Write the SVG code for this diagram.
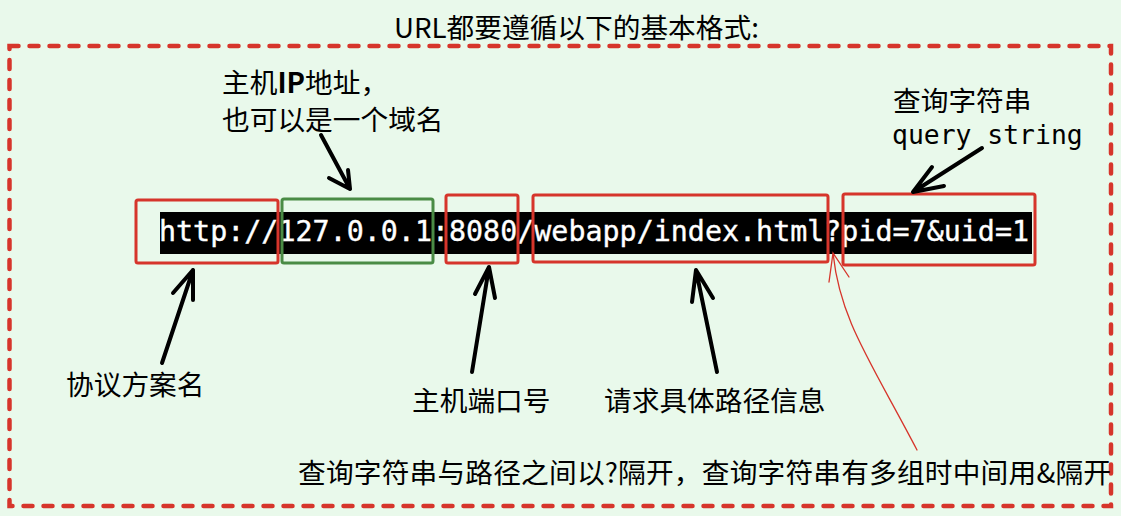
<svg xmlns="http://www.w3.org/2000/svg" width="1121" height="516" viewBox="0 0 1121 516">
<style>
.cjk{font-family:"Noto Sans CJK SC","Noto Sans",sans-serif;font-size:27.7px;fill:#000}
.mono{font-family:"DejaVu Sans Mono","Liberation Mono",monospace}
.rbox{fill:none;stroke:#d6352b;stroke-width:3}
.gbox{fill:none;stroke:#4a8c45;stroke-width:3}
.arr{fill:none;stroke:#000;stroke-width:4;stroke-linecap:round;stroke-linejoin:round}
.thin{fill:none;stroke:#d6352b;stroke-width:1.3;stroke-linecap:round}
.dash{fill:none;stroke:#d6352b;stroke-width:4.5;stroke-linecap:round;stroke-dasharray:9 11}
</style>
<rect x="0" y="0" width="1121" height="516" fill="#e9f9eb"/>
<g id="frame">
<rect class="dash" x="9.5" y="46" width="1101.5" height="460"/>
</g>
<g id="title"><text class="cjk" x="394" y="38">URL都要遵循以下的基本格式:</text></g>
<g id="url-bar">
<rect x="160" y="212" width="872" height="42" fill="#000"/>
<text class="mono" x="159" y="241" font-size="28.3" fill="#fff" stroke="#fff" stroke-width="0.4" textLength="870" lengthAdjust="spacing">http://127.0.0.1:8080/webapp/index.html?pid=7&amp;uid=1</text>
</g>
<g id="box-protocol"><rect class="rbox" x="136" y="200" width="142" height="63" rx="2"/></g>
<g id="box-host"><rect class="gbox" x="282" y="199" width="151" height="64" rx="2"/></g>
<g id="box-port"><rect class="rbox" x="446" y="195" width="72" height="68" rx="2"/></g>
<g id="box-path"><rect class="rbox" x="533" y="195" width="295" height="67" rx="2"/></g>
<g id="box-query"><rect class="rbox" x="843" y="194" width="192" height="71" rx="2"/></g>
<g id="label-host"><text class="cjk" x="222" y="93">主机<tspan font-weight="bold">IP</tspan>地址，</text><text class="cjk" x="222" y="130">也可以是一个域名</text></g>
<g id="label-query"><text class="cjk" x="893" y="111">查询字符串</text><text class="mono" x="892" y="144" font-size="26.4">query string</text></g>
<g id="label-protocol"><text class="cjk" x="66" y="395">协议方案名</text></g>
<g id="label-port"><text class="cjk" x="412" y="411">主机端口号</text></g>
<g id="label-path"><text class="cjk" x="604" y="411">请求具体路径信息</text></g>
<g id="label-sep"><text class="cjk" x="298" y="483" textLength="813" lengthAdjust="spacing">查询字符串与路径之间以?隔开，查询字符串有多组时中间用&amp;隔开</text></g>
<g id="connectors">
<path class="arr" d="M321,135 L350,189 M329,178 L350,189 L348,170"/>
<path class="arr" d="M162,363 L193,270 M173,293 L193,270 L193,300"/>
<path class="arr" d="M472,372 L489,267 M475,294 L489,267 L495,298"/>
<path class="arr" d="M717,372 L696,270 M692,302 L696,270 L713,298"/>
<path class="arr" d="M982,148 L913,192 M932,167 L913,192 L944,186"/>
<path class="thin" d="M917,450 C870,360 840,320 833,253 M829,282 L833,253 L849,277"/>
</g>
</svg>
